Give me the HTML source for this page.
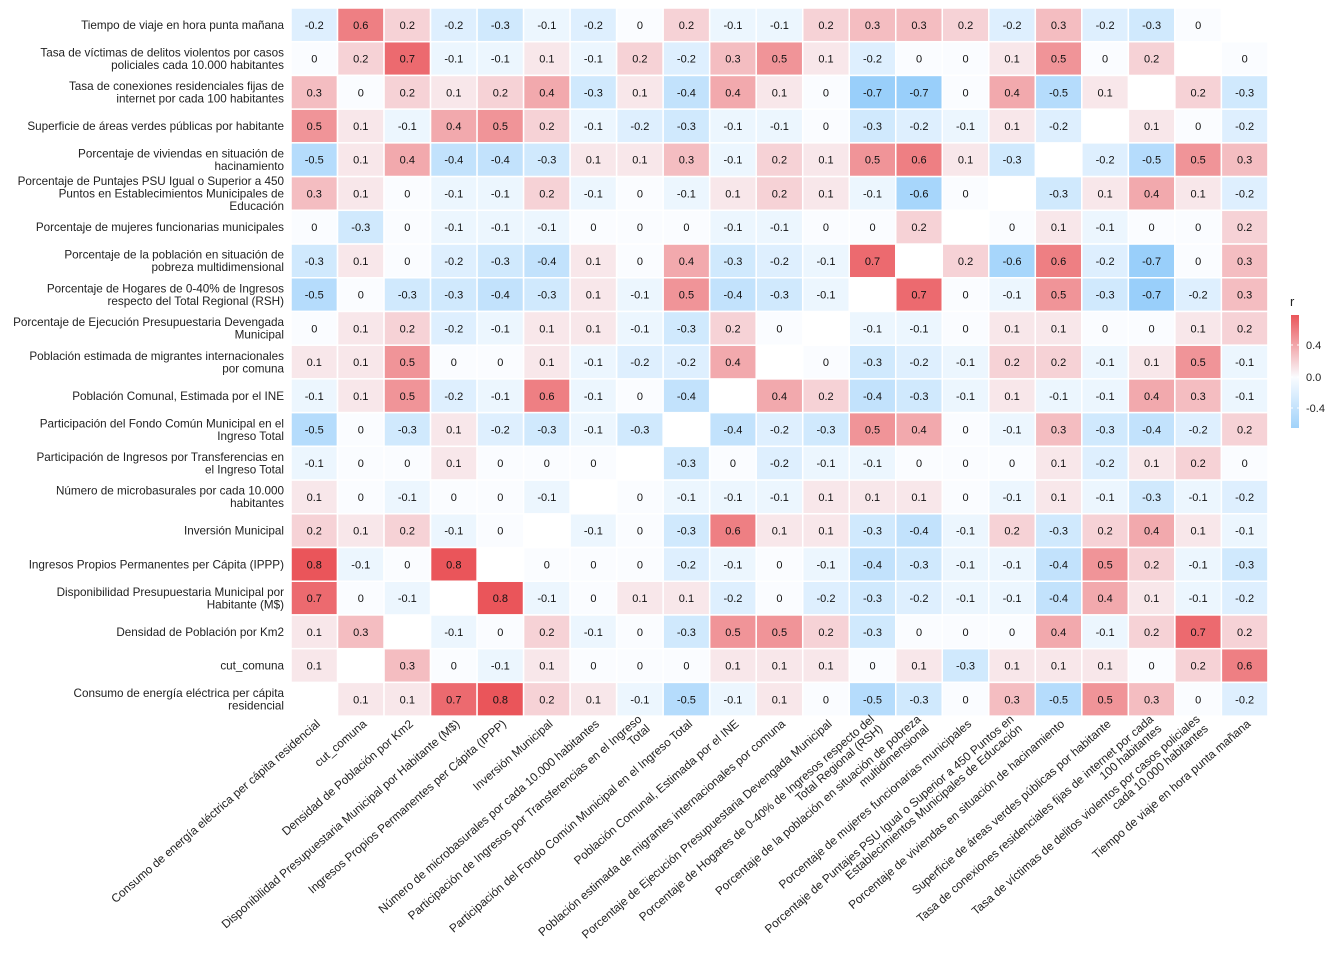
<!DOCTYPE html>
<html><head><meta charset="utf-8"><style>
body{margin:0;background:#fff}
svg{display:block;font-family:"Liberation Sans",sans-serif}
</style></head><body>
<svg id="s" width="1344" height="960" xmlns="http://www.w3.org/2000/svg"></svg>
<script>
const B=null;
const rows=[
["Tiempo de viaje en hora punta mañana"],[-0.2,0.6,0.2,-0.2,-0.3,-0.1,-0.2,0,0.2,-0.1,-0.1,0.2,0.3,0.3,0.2,-0.2,0.3,-0.2,-0.3,0,B],
["Tasa de víctimas de delitos violentos por casos","policiales cada 10.000 habitantes"],[0,0.2,0.7,-0.1,-0.1,0.1,-0.1,0.2,-0.2,0.3,0.5,0.1,-0.2,0,0,0.1,0.5,0,0.2,B,0],
["Tasa de conexiones residenciales fijas de","internet por cada 100 habitantes"],[0.3,0,0.2,0.1,0.2,0.4,-0.3,0.1,-0.4,0.4,0.1,0,-0.7,-0.7,0,0.4,-0.5,0.1,B,0.2,-0.3],
["Superficie de áreas verdes públicas por habitante"],[0.5,0.1,-0.1,0.4,0.5,0.2,-0.1,-0.2,-0.3,-0.1,-0.1,0,-0.3,-0.2,-0.1,0.1,-0.2,B,0.1,0,-0.2],
["Porcentaje de viviendas en situación de","hacinamiento"],[-0.5,0.1,0.4,-0.4,-0.4,-0.3,0.1,0.1,0.3,-0.1,0.2,0.1,0.5,0.6,0.1,-0.3,B,-0.2,-0.5,0.5,0.3],
["Porcentaje de Puntajes PSU Igual o Superior a 450","Puntos en Establecimientos Municipales de","Educación"],[0.3,0.1,0,-0.1,-0.1,0.2,-0.1,0,-0.1,0.1,0.2,0.1,-0.1,-0.6,0,B,-0.3,0.1,0.4,0.1,-0.2],
["Porcentaje de mujeres funcionarias municipales"],[0,-0.3,0,-0.1,-0.1,-0.1,0,0,0,-0.1,-0.1,0,0,0.2,B,0,0.1,-0.1,0,0,0.2],
["Porcentaje de la población en situación de","pobreza multidimensional"],[-0.3,0.1,0,-0.2,-0.3,-0.4,0.1,0,0.4,-0.3,-0.2,-0.1,0.7,B,0.2,-0.6,0.6,-0.2,-0.7,0,0.3],
["Porcentaje de Hogares de 0-40% de Ingresos","respecto del Total Regional (RSH)"],[-0.5,0,-0.3,-0.3,-0.4,-0.3,0.1,-0.1,0.5,-0.4,-0.3,-0.1,B,0.7,0,-0.1,0.5,-0.3,-0.7,-0.2,0.3],
["Porcentaje de Ejecución Presupuestaria Devengada","Municipal"],[0,0.1,0.2,-0.2,-0.1,0.1,0.1,-0.1,-0.3,0.2,0,B,-0.1,-0.1,0,0.1,0.1,0,0,0.1,0.2],
["Población estimada de migrantes internacionales","por comuna"],[0.1,0.1,0.5,0,0,0.1,-0.1,-0.2,-0.2,0.4,B,0,-0.3,-0.2,-0.1,0.2,0.2,-0.1,0.1,0.5,-0.1],
["Población Comunal, Estimada por el INE"],[-0.1,0.1,0.5,-0.2,-0.1,0.6,-0.1,0,-0.4,B,0.4,0.2,-0.4,-0.3,-0.1,0.1,-0.1,-0.1,0.4,0.3,-0.1],
["Participación del Fondo Común Municipal en el","Ingreso Total"],[-0.5,0,-0.3,0.1,-0.2,-0.3,-0.1,-0.3,B,-0.4,-0.2,-0.3,0.5,0.4,0,-0.1,0.3,-0.3,-0.4,-0.2,0.2],
["Participación de Ingresos por Transferencias en","el Ingreso Total"],[-0.1,0,0,0.1,0,0,0,B,-0.3,0,-0.2,-0.1,-0.1,0,0,0,0.1,-0.2,0.1,0.2,0],
["Número de microbasurales por cada 10.000","habitantes"],[0.1,0,-0.1,0,0,-0.1,B,0,-0.1,-0.1,-0.1,0.1,0.1,0.1,0,-0.1,0.1,-0.1,-0.3,-0.1,-0.2],
["Inversión Municipal"],[0.2,0.1,0.2,-0.1,0,B,-0.1,0,-0.3,0.6,0.1,0.1,-0.3,-0.4,-0.1,0.2,-0.3,0.2,0.4,0.1,-0.1],
["Ingresos Propios Permanentes per Cápita (IPPP)"],[0.8,-0.1,0,0.8,B,0,0,0,-0.2,-0.1,0,-0.1,-0.4,-0.3,-0.1,-0.1,-0.4,0.5,0.2,-0.1,-0.3],
["Disponibilidad Presupuestaria Municipal por","Habitante (M$)"],[0.7,0,-0.1,B,0.8,-0.1,0,0.1,0.1,-0.2,0,-0.2,-0.3,-0.2,-0.1,-0.1,-0.4,0.4,0.1,-0.1,-0.2],
["Densidad de Población por Km2"],[0.1,0.3,B,-0.1,0,0.2,-0.1,0,-0.3,0.5,0.5,0.2,-0.3,0,0,0,0.4,-0.1,0.2,0.7,0.2],
["cut_comuna"],[0.1,B,0.3,0,-0.1,0.1,0,0,0,0.1,0.1,0.1,0,0.1,-0.3,0.1,0.1,0.1,0,0.2,0.6],
["Consumo de energía eléctrica per cápita","residencial"],[B,0.1,0.1,0.7,0.8,0.2,0.1,-0.1,-0.5,-0.1,0.1,0,-0.5,-0.3,0,0.3,-0.5,0.5,0.3,0,-0.2]
];
const xl=[["Consumo de energía eléctrica per cápita residencial"],["cut_comuna"],["Densidad de Población por Km2"],["Disponibilidad Presupuestaria Municipal por Habitante (M$)"],["Ingresos Propios Permanentes per Cápita (IPPP)"],["Inversión Municipal"],["Número de microbasurales por cada 10.000 habitantes"],["Participación de Ingresos por Transferencias en el Ingreso","Total"],["Participación del Fondo Común Municipal en el Ingreso Total"],["Población Comunal, Estimada por el INE"],["Población estimada de migrantes internacionales por comuna"],["Porcentaje de Ejecución Presupuestaria Devengada Municipal"],["Porcentaje de Hogares de 0-40% de Ingresos respecto del","Total Regional (RSH)"],["Porcentaje de la población en situación de pobreza","multidimensional"],["Porcentaje de mujeres funcionarias municipales"],["Porcentaje de Puntajes PSU Igual o Superior a 450 Puntos en","Establecimientos Municipales de Educación"],["Porcentaje de viviendas en situación de hacinamiento"],["Superficie de áreas verdes públicas por habitante"],["Tasa de conexiones residenciales fijas de internet por cada","100 habitantes"],["Tasa de víctimas de delitos violentos por casos policiales","cada 10.000 habitantes"],["Tiempo de viaje en hora punta mañana"]];
function col(v){let t,c;if(v>=0){t=Math.min(v/0.8,1);c=[234,85,90];}else{t=Math.min(-v/0.72,1);c=[150,206,250];}
const b=[250,252,255];return `rgb(${Math.round(b[0]+(c[0]-b[0])*t)},${Math.round(b[1]+(c[1]-b[1])*t)},${Math.round(b[2]+(c[2]-b[2])*t)})`;}
let h='';const x0=291,cw=46.52,y0=8,rh=33.72;
for(let r=0;r<21;r++){const lab=rows[2*r],vals=rows[2*r+1];const cy=y0+rh*r+rh/2;
 vals.forEach((v,c)=>{const x=x0+cw*c,y=y0+rh*r;
  if(v===null){h+=`<rect x="${x}" y="${y}" width="${cw}" height="${rh}" fill="#fff"/>`;return;}
  h+=`<rect x="${x}" y="${y}" width="${cw}" height="${rh}" fill="${col(v)}" stroke="#fff" stroke-width="1.5"/>`;
  h+=`<text x="${x+cw/2}" y="${cy+4}" font-size="11" text-anchor="middle" fill="#111">${v}</text>`;});
 const n=lab.length;lab.forEach((l,i)=>{h+=`<text x="284" y="${cy+4+(i-(n-1)/2)*12.5}" font-size="11.7" text-anchor="end" fill="#222">${l}</text>`;});
}
xl.forEach((l,c)=>{const cx=x0+cw*c+cw/2+4,cy=722;const n=l.length;
 l.forEach((s,i)=>{const off=(i-(n-1)/2)*12.5;h+=`<text transform="translate(${cx},${cy}) rotate(-41)" x="0" y="${4+off}" font-size="11.8" text-anchor="end" fill="#222">${s}</text>`;});});
h+=`<defs><linearGradient id="g" x1="0" y1="0" x2="0" y2="1"><stop offset="0" stop-color="rgb(234,85,90)"/><stop offset="0.55" stop-color="#fafcff"/><stop offset="1" stop-color="rgb(160,210,250)"/></linearGradient></defs>`;
h+=`<text x="1290" y="306" font-size="13" fill="#222">r</text>`;
h+=`<rect x="1291" y="315" width="8" height="113" fill="url(#g)"/>`;
[[0.4,345],["0.0",377],[-0.4,408]].forEach(([t,y])=>{h+=`<line x1="1291" x2="1293" y1="${y}" y2="${y}" stroke="#fff"/><line x1="1297" x2="1299" y1="${y}" y2="${y}" stroke="#fff"/><text x="1306" y="${y+4}" font-size="11" fill="#222">${t}</text>`;});
document.getElementById('s').innerHTML=h;
</script>
</body></html>
